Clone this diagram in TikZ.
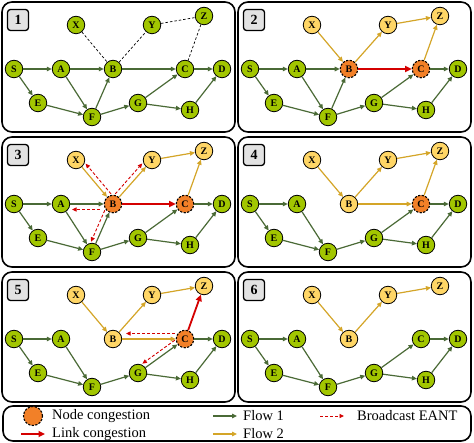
\documentclass[tikz,border=0pt]{standalone}
\usepackage{fontspec}
\setmainfont{Liberation Serif}
\usetikzlibrary{arrows.meta,calc}
\definecolor{ngreen}{RGB}{162,198,0}
\definecolor{nyellow}{RGB}{255,214,102}
\definecolor{norange}{RGB}{242,128,40}
\definecolor{fgreen}{RGB}{74,106,54}
\definecolor{fgold}{RGB}{212,165,40}
\definecolor{lred}{RGB}{212,0,0}
\definecolor{lblgray}{RGB}{226,226,226}
\tikzset{
  nd/.style={circle, draw=black, line width=0.8pt, minimum size=17.5pt, inner sep=0pt,
    font=\bfseries\fontsize{10}{10}\selectfont},
  gn/.style={nd, fill=ngreen},
  yn/.style={nd, fill=nyellow},
  on/.style={nd, fill=norange, dash pattern=on 2.2pt off 1.4pt, line width=1.1pt},
  f1/.style={draw=fgreen, line width=1.2pt, -{Triangle[length=5pt,width=4.5pt]}},
  f2/.style={draw=fgold, line width=1.2pt, -{Triangle[length=5pt,width=4.5pt]}},
  lk/.style={draw=lred, line width=1.8pt, -{Triangle[length=6.5pt,width=6pt]}},
  bc/.style={draw=lred, line width=0.9pt, dash pattern=on 3pt off 2pt, -{Triangle[length=4.5pt,width=4pt]}},
  dl/.style={draw=black, line width=0.7pt, dash pattern=on 2.5pt off 2pt},
  panel/.style={draw=black, line width=1.6pt, rounded corners=10pt, fill=white},
  lbl/.style={draw=black, line width=1.3pt, rounded corners=3pt, fill=lblgray,
    minimum size=21pt, inner sep=0pt, font=\bfseries\fontsize{14}{14}\selectfont},
  legtext/.style={anchor=west, inner sep=0pt, font=\fontsize{14.5}{14.5}\selectfont}
}
\newcommand\netnodes[3]{%
  \node[#1] (X) at (76,25) {X};
  \node[#1] (Y) at (152,25) {Y};
  \node[#1] (Z) at (204,16) {Z};
  \node[gn] (S) at (14,69) {S};
  \node[gn] (A) at (61,69) {A};
  \node[#2] (B) at (113,69) {B};
  \node[#3] (C) at (185,69) {C};
  \node[gn] (D) at (222,69) {D};
  \node[gn] (E) at (38,103) {E};
  \node[gn] (F) at (92,117) {F};
  \node[gn] (G) at (138,103) {G};
  \node[gn] (H) at (190,110) {H};
}
\newcommand\baseflow{%
  \draw[f1] (S) -- (A);
  \draw[f1] (S) -- (E);
  \draw[f1] (E) -- (F);
  \draw[f1] (A) -- (F);
  \draw[f1] (F) -- (G);
  \draw[f1] (G) -- (C);
  \draw[f1] (G) -- (H);
  \draw[f1] (H) -- (D);
  \draw[f1] (C) -- (D);
}
\newcommand\panelframe[1]{%
  \draw[panel] (2,2) rectangle (235,132);
  \node[lbl] (N) at (18,20) {#1};
}
\begin{document}
\begin{tikzpicture}[x=1pt,y=-1pt]
\useasboundingbox[fill=white] (0,0) rectangle (474,443);
% Panel 1
\begin{scope}[name prefix=p1-]
  \panelframe{1}
  \netnodes{gn}{gn}{gn}
  \baseflow
  \draw[f1] (A) -- (B);
  \draw[f1] (F) -- (B);
  \draw[f1] (B) -- (C);
  \draw[dl] (X) -- (B);
  \draw[dl] (B) -- (Y);
  \draw[dl] (Y) -- (Z);
  \draw[dl] (Z) -- (C);
\end{scope}
% Panel 2
\begin{scope}[shift={(236,0)}, name prefix=p2-]
  \panelframe{2}
  \netnodes{yn}{on}{on}
  \baseflow
  \draw[f1] (A) -- (B);
  \draw[f1] (F) -- (B);
  \draw[lk] (B) -- (C);
  \draw[f2] (X) -- (B);
  \draw[f2] (B) -- (Y);
  \draw[f2] (Y) -- (Z);
  \draw[f2] (C) -- (Z);
\end{scope}
% Panel 3
\begin{scope}[shift={(0,135)}, name prefix=p3-]
  \panelframe{3}
  \netnodes{yn}{on}{on}
  \baseflow
  \draw[f1] (A) -- (B);
  \draw[f1] (F) -- (B);
  \draw[lk] (B) -- (C);
  \draw[f2] (X) -- (B);
  \draw[f2] (B) -- (Y);
  \draw[f2] (Y) -- (Z);
  \draw[f2] (C) -- (Z);
  \draw[bc, shorten <=9pt, shorten >=9pt] ($(B)!5pt!-90:(X)$) -- ($(X)!5pt!90:(B)$);
  \draw[bc, shorten <=9pt, shorten >=9pt] ($(B)!5pt!90:(Y)$) -- ($(Y)!5pt!-90:(B)$);
  \draw[bc, shorten <=13pt, shorten >=11pt] ($(B)!5.5pt!90:(A)$) -- ($(A)!5.5pt!-90:(B)$);
  \draw[bc, shorten <=9pt, shorten >=9pt] ($(B)!5pt!-90:(F)$) -- ($(F)!5pt!90:(B)$);
\end{scope}
% Panel 4
\begin{scope}[shift={(236,135)}, name prefix=p4-]
  \panelframe{4}
  \netnodes{yn}{yn}{on}
  \baseflow
  \draw[f2] (X) -- (B);
  \draw[f2] (B) -- (Y);
  \draw[f2] (Y) -- (Z);
  \draw[f2] (B) -- (C);
  \draw[f2] (C) -- (Z);
\end{scope}
% Panel 5
\begin{scope}[shift={(0,270)}, name prefix=p5-]
  \panelframe{5}
  \netnodes{yn}{yn}{on}
  \baseflow
  \draw[f2] (X) -- (B);
  \draw[f2] (B) -- (Y);
  \draw[f2] (Y) -- (Z);
  \draw[f2] (B) -- (C);
  \draw[lk] (C) -- (Z);
  \draw[bc, shorten <=10pt, shorten >=13pt] ($(C)!5.5pt!-90:(B)$) -- ($(B)!5.5pt!90:(C)$);
  \draw[bc, shorten <=9pt, shorten >=9pt] ($(C)!5pt!-90:(G)$) -- ($(G)!5pt!90:(C)$);
\end{scope}
% Panel 6
\begin{scope}[shift={(236,270)}, name prefix=p6-]
  \panelframe{6}
  \netnodes{yn}{yn}{gn}
  \baseflow
  \draw[f2] (X) -- (B);
  \draw[f2] (B) -- (Y);
  \draw[f2] (Y) -- (Z);
\end{scope}
% Legend
\draw[panel] (3,406) rectangle (471,441);
\node[on, minimum size=19pt] (lgnode) at (33,416) {};
\node[legtext] (lgnodet) at (52,416) {Node congestion};
\coordinate (lk1) at (21,434);
\coordinate (lk2) at (45,434);
\draw[lk] (lk1) -- (lk2);
\node[legtext] (lglinkt) at (52,434) {Link congestion};
\coordinate (fa1) at (213,416);
\coordinate (fa2) at (237,416);
\draw[f1] (fa1) -- (fa2);
\node[legtext] (lgf1) at (243,416) {Flow 1};
\coordinate (fb1) at (213,434);
\coordinate (fb2) at (237,434);
\draw[f2] (fb1) -- (fb2);
\node[legtext] (lgf2) at (243,434) {Flow 2};
\coordinate (bc1) at (320,416);
\coordinate (bc2) at (344,416);
\draw[bc] (bc1) -- (bc2);
\node[legtext] (lgbc) at (357,416) {Broadcast EANT};
\end{tikzpicture}
\end{document}
